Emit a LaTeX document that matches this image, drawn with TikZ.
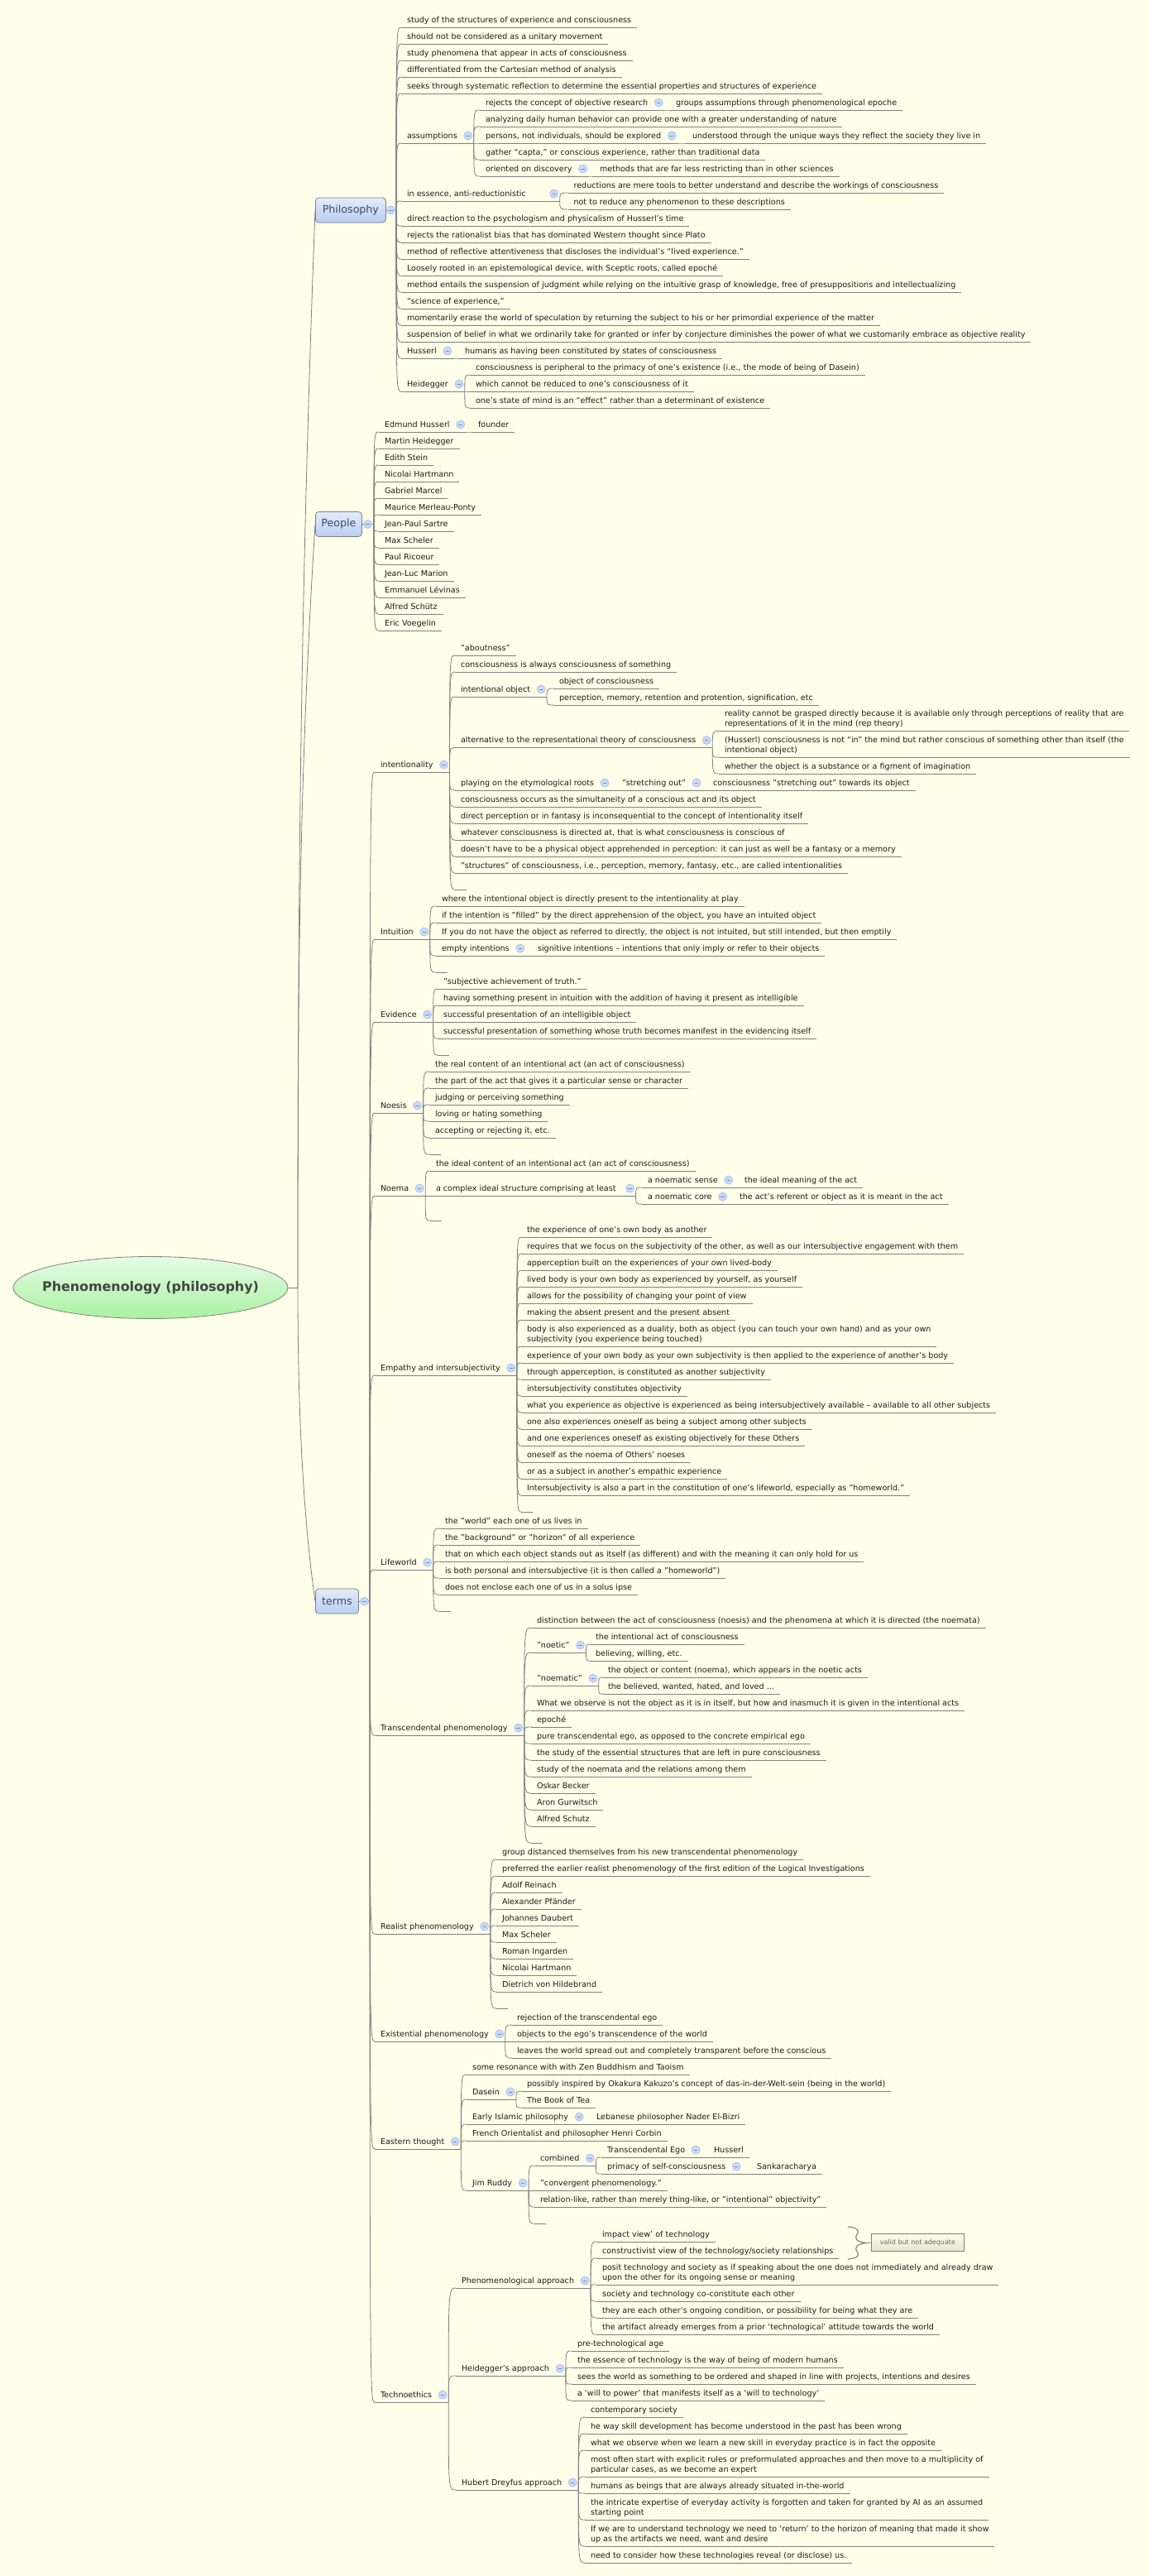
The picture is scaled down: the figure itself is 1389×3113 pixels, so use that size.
\documentclass[tikz,border=0pt]{standalone}
\usepackage{fontspec}
\setmainfont{DejaVu Sans}
\usetikzlibrary{shapes.geometric}
\definecolor{paper}{HTML}{FEFEE9}
\definecolor{wirecol}{HTML}{808080}
\definecolor{inkcol}{HTML}{1C1C1C}
\definecolor{boxink}{HTML}{45485A}
\definecolor{rootink}{HTML}{444444}
\definecolor{boxtop}{HTML}{E2ECFB}
\definecolor{boxbot}{HTML}{B9CEF2}
\definecolor{roottop}{HTML}{E6FBE6}
\definecolor{rootbot}{HTML}{A9F2A1}
\definecolor{notebot}{HTML}{E6E6CC}
\definecolor{knobfill}{HTML}{C8DAF8}
\definecolor{knobline}{HTML}{A8C0E8}
\definecolor{knobdash}{HTML}{6E8EC8}
\tikzset{
  wire/.style={draw=wirecol,line width=0.8pt},
  fan/.style={wire,to path={.. controls (\tikztostart |- \tikztotarget) .. (\tikztotarget) \tikztonodes}},
  leaf/.style={anchor=south west,inner xsep=7pt,inner ysep=2pt,outer sep=0pt,align=left,text=inkcol,
    font=\fontsize{9.6}{12}\selectfont,
    execute at begin node=\strut,execute at end node=\strut,
    append after command={(\tikzlastnode.south west) edge[wire] (\tikzlastnode.south east)}},
  hub/.style={leaf,execute at end node={\hspace*{#1}\strut}},
  hub/.default=13pt,
  stub/.style={leaf,minimum width=13pt},
  knob/.style={circle,minimum size=10pt,inner sep=0pt,draw=knobline,fill=knobfill,line width=0.7pt,
    path picture={\draw[knobdash,line width=0.7pt] ([xshift=-2.2pt]path picture bounding box.center) -- ([xshift=2.2pt]path picture bounding box.center);}},
  topic/.style={rectangle,anchor=west,rounded corners=4pt,draw=wirecol,line width=0.8pt,minimum height=30pt,inner sep=0pt,
    top color=boxtop,bottom color=boxbot,text=boxink,font=\fontsize{12.6}{14}\selectfont},
  rootnode/.style={ellipse,draw=wirecol,line width=0.8pt,minimum width=332pt,minimum height=75pt,inner sep=0pt,
    top color=roottop,bottom color=rootbot,text=rootink,font=\fontsize{15.9}{18}\selectfont\bfseries},
  note/.style={rectangle,anchor=west,draw=wirecol,line width=0.8pt,minimum width=112pt,minimum height=21pt,inner sep=0pt,
    top color=paper,bottom color=notebot,text=black!60,font=\fontsize{8}{10}\selectfont},
  brace/.style={wire,line width=1.1pt},
}
\newcommand{\fanout}[2]{\foreach \kid in {#2}{\draw[fan] (#1) to (\kid.south west);}}
\begin{document}
\begin{tikzpicture}[x=1pt,y=-1pt]
\fill[paper] (0,0) rectangle (1389,3113);
\useasboundingbox (0,0) rectangle (1389,3113);
% centre and main topics
\node[rootnode] (root) at (182,1556) {\makebox[0pt]{Phenomenology (philosophy)}};
\coordinate (rootHub) at (360,1556);
\node[topic,minimum width=85pt] (phil) at (381,254) {Philosophy};
\node[topic,minimum width=56pt] (people) at (381,633.5) {People};
\node[topic,minimum width=52pt] (terms) at (381,1935) {terms};
\coordinate (philHub) at (479,254);
\coordinate (peopleHub) at (452,633.5);
\coordinate (termsHub) at (447,1935);
\draw[wire] (root.east) -- (rootHub);
\draw[wire] (rootHub) .. controls (360,1050) and (364,700) .. (phil.west);
\draw[wire] (rootHub) .. controls (360,1200) and (361,950) .. (people.west);
\draw[wire] (rootHub) .. controls (360,1700) and (366,1830) .. (terms.west);
\draw[wire] (phil.east) -- (philHub);
\draw[wire] (people.east) -- (peopleHub);
\draw[wire] (terms.east) -- (termsHub);
% philosophy
\node[leaf] (ph1) at (485,33) {study of the structures of experience and consciousness};
\node[leaf] (ph2) at (485,53) {should not be considered as a unitary movement};
\node[leaf] (ph3) at (485,73) {study phenomena that appear in acts of consciousness};
\node[leaf] (ph4) at (485,93) {differentiated from the Cartesian method of analysis};
\node[leaf] (ph5) at (485,113) {seeks through systematic reflection to determine the essential properties and structures of experience};
\node[hub] (assum) at (485,173) {assumptions};
\node[hub] (as1) at (580,133) {rejects the concept of objective research};
\node[leaf] (as1b) at (810,133) {groups assumptions through phenomenological epoche};
\node[leaf] (as2) at (580,153) {analyzing daily human behavior can provide one with a greater understanding of nature};
\node[hub] (as3) at (580,173) {persons, not individuals, should be explored};
\node[leaf] (as3b) at (830,173) {understood through the unique ways they reflect the society they live in};
\node[leaf] (as4) at (580,193) {gather “capta,” or conscious experience, rather than traditional data};
\node[hub] (as5) at (580,213) {oriented on discovery};
\node[leaf] (as5b) at (718,213) {methods that are far less restricting than in other sciences};
\node[hub=34pt] (anti) at (485,243) {in essence, anti-reductionistic};
\node[leaf] (an1) at (686.5,233) {reductions are mere tools to better understand and describe the workings of consciousness};
\node[leaf] (an2) at (686.5,253) {not to reduce any phenomenon to these descriptions};
\node[leaf] (ph6) at (485,273) {direct reaction to the psychologism and physicalism of Husserl's time};
\node[leaf] (ph7) at (485,293) {rejects the rationalist bias that has dominated Western thought since Plato};
\node[leaf] (ph8) at (485,313) {method of reflective attentiveness that discloses the individual's “lived experience.”};
\node[leaf] (ph9) at (485,333) {Loosely rooted in an epistemological device, with Sceptic roots, called epoché};
\node[leaf] (ph10) at (485,353) {method entails the suspension of judgment while relying on the intuitive grasp of knowledge, free of presuppositions and intellectualizing};
\node[leaf] (ph11) at (485,373) {“science of experience,”};
\node[leaf] (ph12) at (485,393) {momentarily erase the world of speculation by returning the subject to his or her primordial experience of the matter};
\node[leaf] (ph13) at (485,413) {suspension of belief in what we ordinarily take for granted or infer by conjecture diminishes the power of what we customarily embrace as objective reality};
\node[hub] (phHus) at (485,433) {Husserl};
\node[leaf] (phHusb) at (555,433) {humans as having been constituted by states of consciousness};
\node[hub] (phHei) at (485,473) {Heidegger};
\node[leaf] (he1) at (568,453) {consciousness is peripheral to the primacy of one's existence (i.e., the mode of being of Dasein)};
\node[leaf] (he2) at (568,473) {which cannot be reduced to one's consciousness of it};
\node[leaf] (he3) at (568,493) {one's state of mind is an “effect” rather than a determinant of existence};
\fanout{philHub}{ph1,ph2,ph3,ph4,ph5,assum,anti,ph6,ph7,ph8,ph9,ph10,ph11,ph12,ph13,phHus,phHei}
\fanout{assum.south east}{as1,as2,as3,as4,as5}
\fanout{as1.south east}{as1b}
\fanout{as3.south east}{as3b}
\fanout{as5.south east}{as5b}
\fanout{anti.south east}{an1,an2}
\fanout{phHus.south east}{phHusb}
\fanout{phHei.south east}{he1,he2,he3}
% people
\node[hub] (pe1) at (458,522) {Edmund Husserl};
\node[leaf] (pe1b) at (571,522) {founder};
\node[leaf] (pe2) at (458,542) {Martin Heidegger};
\node[leaf] (pe3) at (458,562) {Edith Stein};
\node[leaf] (pe4) at (458,582) {Nicolai Hartmann};
\node[leaf] (pe5) at (458,602) {Gabriel Marcel};
\node[leaf] (pe6) at (458,622) {Maurice Merleau-Ponty};
\node[leaf] (pe7) at (458,642) {Jean-Paul Sartre};
\node[leaf] (pe8) at (458,662) {Max Scheler};
\node[leaf] (pe9) at (458,682) {Paul Ricoeur};
\node[leaf] (pe10) at (458,702) {Jean-Luc Marion};
\node[leaf] (pe11) at (458,722) {Emmanuel Lévinas};
\node[leaf] (pe12) at (458,742) {Alfred Schütz};
\node[leaf] (pe13) at (458,762) {Eric Voegelin};
\fanout{peopleHub}{pe1,pe2,pe3,pe4,pe5,pe6,pe7,pe8,pe9,pe10,pe11,pe12,pe13}
\fanout{pe1.south east}{pe1b}
% intentionality
\node[hub] (inten) at (453,933) {intentionality};
\node[leaf] (in1) at (550,792) {"aboutness"};
\node[leaf] (in2) at (550,812) {consciousness is always consciousness of something};
\node[hub] (in3) at (550,842) {intentional object};
\node[leaf] (in3a) at (669,832) {object of consciousness};
\node[leaf] (in3b) at (669,852) {perception, memory, retention and protention, signification, etc};
\node[hub] (in4) at (550,903.5) {alternative to the representational theory of consciousness};
\node[leaf] (in4a) at (869,883.5) {reality cannot be grasped directly because it is available only through perceptions of reality that are\\representations of it in the mind (rep theory)};
\node[leaf] (in4b) at (869,915) {(Husserl) consciousness is not “in” the mind but rather conscious of something other than itself (the\\intentional object)};
\node[leaf] (in4c) at (869,935) {whether the object is a substance or a figment of imagination};
\node[hub] (in5) at (550,955) {playing on the etymological roots};
\node[hub] (in5a) at (745,955) {"stretching out"};
\node[leaf] (in5b) at (855,955) {consciousness "stretching out" towards its object};
\node[leaf] (in6) at (550,975) {consciousness occurs as the simultaneity of a conscious act and its object};
\node[leaf] (in7) at (550,995) {direct perception or in fantasy is inconsequential to the concept of intentionality itself};
\node[leaf] (in8) at (550,1015) {whatever consciousness is directed at, that is what consciousness is conscious of};
\node[leaf] (in9) at (550,1035) {doesn't have to be a physical object apprehended in perception: it can just as well be a fantasy or a memory};
\node[leaf] (in10) at (550,1055) {"structures" of consciousness, i.e., perception, memory, fantasy, etc., are called intentionalities};
\node[stub] (in11) at (550,1075) {};
\fanout{inten.south east}{in1,in2,in3,in4,in5,in6,in7,in8,in9,in10,in11}
\fanout{in3.south east}{in3a,in3b}
\fanout{in4.south east}{in4a,in4b,in4c}
\fanout{in5.south east}{in5a}
\fanout{in5a.south east}{in5b}
% intuition
\node[hub] (intui) at (453,1135) {Intuition};
\node[leaf] (iu1) at (527,1095) {where the intentional object is directly present to the intentionality at play};
\node[leaf] (iu2) at (527,1115) {if the intention is "filled" by the direct apprehension of the object, you have an intuited object};
\node[leaf] (iu3) at (527,1135) {If you do not have the object as referred to directly, the object is not intuited, but still intended, but then emptily};
\node[hub] (iu4) at (527,1155) {empty intentions};
\node[leaf] (iu4b) at (643,1155) {signitive intentions – intentions that only imply or refer to their objects};
\node[stub] (iu5) at (527,1175) {};
\fanout{intui.south east}{iu1,iu2,iu3,iu4,iu5}
\fanout{iu4.south east}{iu4b}
% evidence
\node[hub] (evid) at (453,1235) {Evidence};
\node[leaf] (ev1) at (529,1195) {"subjective achievement of truth."};
\node[leaf] (ev2) at (529,1215) {having something present in intuition with the addition of having it present as intelligible};
\node[leaf] (ev3) at (529,1235) {successful presentation of an intelligible object};
\node[leaf] (ev4) at (529,1255) {successful presentation of something whose truth becomes manifest in the evidencing itself};
\node[stub] (ev5) at (529,1275) {};
\fanout{evid.south east}{ev1,ev2,ev3,ev4,ev5}
% noesis
\node[hub] (noes) at (453,1345) {Noesis};
\node[leaf] (ns1) at (519,1295) {the real content of an intentional act (an act of consciousness)};
\node[leaf] (ns2) at (519,1315) {the part of the act that gives it a particular sense or character};
\node[leaf] (ns3) at (519,1335) {judging or perceiving something};
\node[leaf] (ns4) at (519,1355) {loving or hating something};
\node[leaf] (ns5) at (519,1375) {accepting or rejecting it, etc.};
\node[stub] (ns6) at (519,1395) {};
\fanout{noes.south east}{ns1,ns2,ns3,ns4,ns5,ns6}
% noema
\node[hub] (noem) at (453,1445) {Noema};
\node[leaf] (nm1) at (520,1415) {the ideal content of an intentional act (an act of consciousness)};
\node[hub=17pt] (nm2) at (520,1445) {a complex ideal structure comprising at least};
\node[hub] (nm2a) at (776,1435) {a noematic sense};
\node[leaf] (nm2c) at (893,1435) {the ideal meaning of the act};
\node[hub] (nm2b) at (776,1455) {a noematic core};
\node[leaf] (nm2d) at (887,1455) {the act's referent or object as it is meant in the act};
\node[stub] (nm3) at (520,1475) {};
\fanout{noem.south east}{nm1,nm2,nm3}
\fanout{nm2.south east}{nm2a,nm2b}
\fanout{nm2a.south east}{nm2c}
\fanout{nm2b.south east}{nm2d}
% empathy
\node[hub] (empa) at (453,1662) {Empathy and intersubjectivity};
\node[leaf] (em1) at (630,1495) {the experience of one's own body as another};
\node[leaf] (em2) at (630,1515) {requires that we focus on the subjectivity of the other, as well as our intersubjective engagement with them};
\node[leaf] (em3) at (630,1535) {apperception built on the experiences of your own lived-body};
\node[leaf] (em4) at (630,1555) {lived body is your own body as experienced by yourself, as yourself};
\node[leaf] (em5) at (630,1575) {allows for the possibility of changing your point of view};
\node[leaf] (em6) at (630,1595) {making the absent present and the present absent};
\node[leaf] (em7) at (630,1627) {body is also experienced as a duality, both as object (you can touch your own hand) and as your own\\subjectivity (you experience being touched)};
\node[leaf] (em8) at (630,1647) {experience of your own body as your own subjectivity is then applied to the experience of another's body};
\node[leaf] (em9) at (630,1667) {through apperception, is constituted as another subjectivity};
\node[leaf] (em10) at (630,1687) {intersubjectivity constitutes objectivity};
\node[leaf] (em11) at (630,1707) {what you experience as objective is experienced as being intersubjectively available – available to all other subjects};
\node[leaf] (em12) at (630,1727) {one also experiences oneself as being a subject among other subjects};
\node[leaf] (em13) at (630,1747) {and one experiences oneself as existing objectively for these Others};
\node[leaf] (em14) at (630,1767) {oneself as the noema of Others' noeses};
\node[leaf] (em15) at (630,1787) {or as a subject in another's empathic experience};
\node[leaf] (em16) at (630,1807) {Intersubjectivity is also a part in the constitution of one's lifeworld, especially as "homeworld."};
\node[stub] (em17) at (630,1827) {};
\fanout{empa.south east}{em1,em2,em3,em4,em5,em6,em7,em8,em9,em10,em11,em12,em13,em14,em15,em16,em17}
% lifeworld
\node[hub] (life) at (453,1897) {Lifeworld};
\node[leaf] (li1) at (531,1847) {the "world" each one of us lives in};
\node[leaf] (li2) at (531,1867) {the "background" or "horizon" of all experience};
\node[leaf] (li3) at (531,1887) {that on which each object stands out as itself (as different) and with the meaning it can only hold for us};
\node[leaf] (li4) at (531,1907) {is both personal and intersubjective (it is then called a "homeworld")};
\node[leaf] (li5) at (531,1927) {does not enclose each one of us in a solus ipse};
\node[stub] (li6) at (531,1947) {};
\fanout{life.south east}{li1,li2,li3,li4,li5,li6}
% transcendental
\node[hub] (trans) at (453,2097) {Transcendental phenomenology};
\node[leaf] (tr1) at (642,1967) {distinction between the act of consciousness (noesis) and the phenomena at which it is directed (the noemata)};
\node[hub] (tr2) at (642,1997) {"noetic"};
\node[leaf] (tr2a) at (713,1987) {the intentional act of consciousness};
\node[leaf] (tr2b) at (713,2007) {believing, willing, etc.};
\node[hub] (tr3) at (642,2037) {"noematic"};
\node[leaf] (tr3a) at (728,2027) {the object or content (noema), which appears in the noetic acts};
\node[leaf] (tr3b) at (728,2047) {the believed, wanted, hated, and loved ...};
\node[leaf] (tr4) at (642,2067) {What we observe is not the object as it is in itself, but how and inasmuch it is given in the intentional acts};
\node[leaf] (tr5) at (642,2087) {epoché};
\node[leaf] (tr6) at (642,2107) {pure transcendental ego, as opposed to the concrete empirical ego};
\node[leaf] (tr7) at (642,2127) {the study of the essential structures that are left in pure consciousness};
\node[leaf] (tr8) at (642,2147) {study of the noemata and the relations among them};
\node[leaf] (tr9) at (642,2167) {Oskar Becker};
\node[leaf] (tr10) at (642,2187) {Aron Gurwitsch};
\node[leaf] (tr11) at (642,2207) {Alfred Schutz};
\node[stub] (tr12) at (642,2227) {};
\fanout{trans.south east}{tr1,tr2,tr3,tr4,tr5,tr6,tr7,tr8,tr9,tr10,tr11,tr12}
\fanout{tr2.south east}{tr2a,tr2b}
\fanout{tr3.south east}{tr3a,tr3b}
% realist
\node[hub] (real) at (453,2337) {Realist phenomenology};
\node[leaf] (re1) at (600,2247) {group distanced themselves from his new transcendental phenomenology};
\node[leaf] (re2) at (600,2267) {preferred the earlier realist phenomenology of the first edition of the Logical Investigations};
\node[leaf] (re3) at (600,2287) {Adolf Reinach};
\node[leaf] (re4) at (600,2307) {Alexander Pfänder};
\node[leaf] (re5) at (600,2327) {Johannes Daubert};
\node[leaf] (re6) at (600,2347) {Max Scheler};
\node[leaf] (re7) at (600,2367) {Roman Ingarden};
\node[leaf] (re8) at (600,2387) {Nicolai Hartmann};
\node[leaf] (re9) at (600,2407) {Dietrich von Hildebrand};
\node[stub] (re10) at (600,2427) {};
\fanout{real.south east}{re1,re2,re3,re4,re5,re6,re7,re8,re9,re10}
% existential
\node[hub] (exis) at (453,2467) {Existential phenomenology};
\node[leaf] (ex1) at (618,2447) {rejection of the transcendental ego};
\node[leaf] (ex2) at (618,2467) {objects to the ego's transcendence of the world};
\node[leaf] (ex3) at (618,2487) {leaves the world spread out and completely transparent before the conscious};
\fanout{exis.south east}{ex1,ex2,ex3}
% eastern
\node[hub] (east) at (453,2597) {Eastern thought};
\node[leaf] (ea1) at (564,2507) {some resonance with with Zen Buddhism and Taoism};
\node[hub] (ea2) at (564,2537) {Dasein};
\node[leaf] (ea2a) at (630,2527) {possibly inspired by Okakura Kakuzo's concept of das-in-der-Welt-sein (being in the world)};
\node[leaf] (ea2b) at (630,2547) {The Book of Tea};
\node[hub] (ea3) at (564,2567) {Early Islamic philosophy};
\node[leaf] (ea3b) at (714,2567) {Lebanese philosopher Nader El-Bizri};
\node[leaf] (ea4) at (564,2587) {French Orientalist and philosopher Henri Corbin};
\node[hub] (ea5) at (564,2647) {Jim Ruddy};
\node[hub] (ru1) at (646,2617) {combined};
\node[hub] (ru1a) at (727,2607) {Transcendental Ego};
\node[leaf] (ru1c) at (856,2607) {Husserl};
\node[hub] (ru1b) at (727,2627) {primacy of self-consciousness};
\node[leaf] (ru1d) at (908,2627) {Sankaracharya};
\node[leaf] (ru2) at (646,2647) {"convergent phenomenology."};
\node[leaf] (ru3) at (646,2667) {relation-like, rather than merely thing-like, or "intentional" objectivity"};
\node[stub] (ru4) at (646,2687) {};
\fanout{east.south east}{ea1,ea2,ea3,ea4,ea5}
\fanout{ea2.south east}{ea2a,ea2b}
\fanout{ea3.south east}{ea3b}
\fanout{ea5.south east}{ru1,ru2,ru3,ru4}
\fanout{ru1.south east}{ru1a,ru1b}
\fanout{ru1a.south east}{ru1c}
\fanout{ru1b.south east}{ru1d}
% technoethics
\node[hub] (tech) at (453,2903) {Technoethics};
\node[hub] (phap) at (551,2765) {Phenomenological approach};
\node[leaf] (pa1) at (721,2709) {impact view' of technology};
\node[leaf] (pa2) at (721,2729) {constructivist view of the technology/society relationships};
\node[leaf] (pa3) at (721,2761) {posit technology and society as if speaking about the one does not immediately and already draw\\upon the other for its ongoing sense or meaning};
\node[leaf] (pa4) at (721,2781) {society and technology co-constitute each other};
\node[leaf] (pa5) at (721,2801) {they are each other's ongoing condition, or possibility for being what they are};
\node[leaf] (pa6) at (721,2821) {the artifact already emerges from a prior ‘technological’ attitude towards the world};
\node[hub] (heap) at (551,2871) {Heidegger's approach};
\node[leaf] (hp1) at (691,2841) {pre-technological age};
\node[leaf] (hp2) at (691,2861) {the essence of technology is the way of being of modern humans};
\node[leaf] (hp3) at (691,2881) {sees the world as something to be ordered and shaped in line with projects, intentions and desires};
\node[leaf] (hp4) at (691,2901) {a ‘will to power’ that manifests itself as a ‘will to technology’};
\node[hub] (drey) at (551,3009) {Hubert Dreyfus approach};
\node[leaf] (dr1) at (707,2921) {contemporary society};
\node[leaf] (dr2) at (707,2941) {he way skill development has become understood in the past has been wrong};
\node[leaf] (dr3) at (707,2961) {what we observe when we learn a new skill in everyday practice is in fact the opposite};
\node[leaf] (dr4) at (707,2993) {most often start with explicit rules or preformulated approaches and then move to a multiplicity of\\particular cases, as we become an expert};
\node[leaf] (dr5) at (707,3013) {humans as beings that are always already situated in-the-world};
\node[leaf] (dr6) at (707,3045) {the intricate expertise of everyday activity is forgotten and taken for granted by AI as an assumed\\starting point};
\node[leaf] (dr7) at (707,3077) {If we are to understand technology we need to ‘return’ to the horizon of meaning that made it show\\up as the artifacts we need, want and desire};
\node[leaf] (dr8) at (707,3097) {need to consider how these technologies reveal (or disclose) us.};
\fanout{tech.south east}{phap,heap,drey}
\fanout{phap.south east}{pa1,pa2,pa3,pa4,pa5,pa6}
\fanout{heap.south east}{hp1,hp2,hp3,hp4}
\fanout{drey.south east}{dr1,dr2,dr3,dr4,dr5,dr6,dr7,dr8}
\fanout{termsHub}{inten,intui,evid,noes,noem,empa,life,trans,real,exis,east,tech}
% brace and note
\coordinate (braceTop) at (1025,2691);
\coordinate (braceBot) at (1025,2730);
\coordinate (braceTip) at (1047,2710.5);
\node[note] (valid) at (1053,2710) {valid but not adequate};
\draw[brace] (braceTop) .. controls (1036,2692) and (1040,2695) .. (1036,2700) .. controls (1033,2704) and (1034,2709) .. (braceTip) .. controls (1034,2712) and (1033,2717) .. (1036,2721) .. controls (1040,2726) and (1036,2729) .. (braceBot);
\draw[wire] (braceTip) -- (valid.west);
% collapse knobs
\node[knob] (philKnob) at (472.5,254) {};
\node[knob] (peopleKnob) at (444.5,633.5) {};
\node[knob] (termsKnob) at (440.5,1935) {};
\foreach \h in {assum,as1,as3,as5,anti,phHus,phHei,pe1,inten,in3,in4,in5,in5a,intui,iu4,evid,noes,noem,nm2,nm2a,nm2b,empa,life,trans,tr2,tr3,real,exis,east,ea2,ea3,ea5,ru1,ru1a,ru1b,tech,phap,heap,drey}{
  \node[knob] (\h Knob) at ([shift={(-7,-9)}]\h.south east) {};
}
\end{tikzpicture}
\end{document}
